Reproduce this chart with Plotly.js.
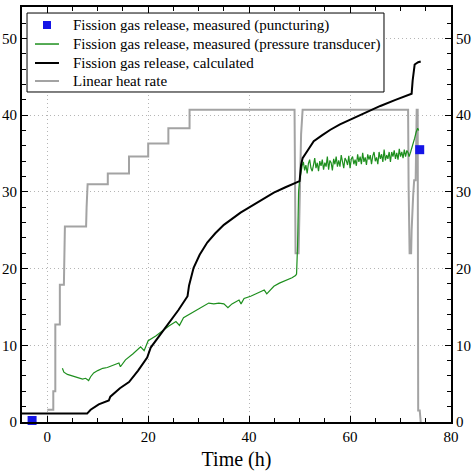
<!DOCTYPE html>
<html>
<head>
<meta charset="utf-8">
<script src="https://cdn.plot.ly/plotly-3.0.1.min.js"></script>
<style>
  html, body { margin: 0; padding: 0; background: #fff; }
  #chart { width: 474px; height: 474px; }
</style>
</head>
<body>
<div id="chart"></div>
<script>
// Linear heat rate (stepped power history)
const heatTime = [0, 1.2, 1.2, 1.6, 1.6, 2.5, 2.5, 3.3, 3.5, 7.7, 7.8, 8.0, 12.0, 12.0, 16.2, 16.2, 20.0, 20.0, 24.0, 24.0, 28.2, 28.2,
  49.0, 49.2, 49.8, 50.3, 50.6, 71.5, 71.6, 71.8, 72.1, 72.2, 72.5, 72.7, 73.0, 73.2, 73.4, 73.5, 73.8, 74.0];
const heatRate = [1.6, 1.6, 4.0, 4.0, 12.7, 12.7, 17.9, 17.9, 25.5, 25.5, 28.0, 31.0, 31.0, 32.4, 32.4, 34.6, 34.6, 36.3, 36.3, 38.3, 38.3, 40.7,
  40.7, 22.0, 22.0, 37.5, 40.7, 40.7, 30.7, 22.0, 22.0, 25.0, 29.5, 31.5, 31.5, 40.7, 40.7, 1.5, 1.5, 0.0];

// Fission gas release, pressure transducer signal
const fgrTransTime = [3.0, 3.3, 4.0, 5.0, 5.9, 7.0, 7.6, 8.2, 8.6, 9.2, 10.0, 11.0, 11.9, 13.0, 14.2, 14.5, 15.5, 17.0, 18.5, 19.2, 20.0,
  21.5, 23.0, 24.1, 25.5, 26.2, 27.0, 28.5, 30.0, 31.0, 32.0, 33.0, 34.0, 35.0, 35.8, 36.6, 38.0, 38.4, 39.0, 40.3, 41.5, 43.0, 43.5,
  44.9, 46.0, 47.5, 48.5, 49.2, 49.4, 49.6, 49.8, 50.0, 50.3, 50.5,
  50.75, 51.0, 51.25, 51.5, 51.75, 52.0, 52.25, 52.5, 52.75, 53.0, 53.25, 53.5,
  53.75, 54.0, 54.25, 54.5, 54.75, 55.0, 55.25, 55.5, 55.75, 56.0, 56.25, 56.5,
  56.75, 57.0, 57.25, 57.5, 57.75, 58.0, 58.25, 58.5, 58.75, 59.0, 59.25, 59.5,
  59.75, 60.0, 60.25, 60.5, 60.75, 61.0, 61.25, 61.5, 61.75, 62.0, 62.25, 62.5,
  62.75, 63.0, 63.25, 63.5, 63.75, 64.0, 64.25, 64.5, 64.75, 65.0, 65.25, 65.5,
  65.75, 66.0, 66.25, 66.5, 66.75, 67.0, 67.25, 67.5, 67.75, 68.0, 68.25, 68.5,
  68.75, 69.0, 69.25, 69.5, 69.75, 70.0, 70.25, 70.5, 70.75, 71.0, 71.25, 71.5,
  71.7, 72.0, 72.4, 72.8, 73.1, 73.4, 73.6];
const fgrTrans = [7.0, 6.5, 6.2, 6.0, 5.8, 5.6, 5.7, 5.4, 5.9, 6.4, 6.7, 7.0, 7.1, 7.4, 7.7, 7.2, 8.1, 8.9, 9.8, 9.3, 10.6,
  11.2, 12.0, 12.5, 13.1, 12.6, 13.6, 14.2, 14.8, 15.2, 15.5, 15.4, 15.5, 15.4, 14.9, 15.4, 15.9, 15.4, 16.1, 16.4, 16.8, 17.2, 16.7,
  17.7, 18.1, 18.5, 18.8, 19.1, 19.3, 23.0, 30.0, 31.5, 32.8, 33.4,
  33.9, 32.8, 33.5, 32.4, 33.7, 34.2, 33.1, 32.7, 33.5, 34.4, 33.1, 33.8,
  32.7, 34.0, 33.4, 34.2, 32.9, 33.8, 33.3, 34.6, 32.9, 34.1, 33.8, 32.8,
  34.3, 33.6, 34.6, 33.3, 34.1, 33.3, 34.8, 33.8, 33.1, 34.4, 34.1, 33.5,
  34.7, 33.1, 34.3, 34.6, 33.6, 34.2, 33.4, 34.9, 33.9, 34.6, 33.6, 35.1,
  33.9, 34.5, 33.5, 34.9, 34.2, 34.8, 33.6, 34.7, 35.2, 34.0, 34.5, 33.6,
  35.2, 34.3, 34.9, 33.9, 35.5, 34.1, 34.8, 34.3, 35.2, 33.9, 35.2, 34.6,
  35.4, 34.3, 35.1, 34.2, 35.6, 34.6, 35.2, 34.4, 35.5, 34.6, 35.4, 35.1,
  34.6, 35.2, 36.0, 37.0, 37.8, 38.3, 38.0];

// Fission gas release, calculated
const fgrCalcTime = [-5, 7.9, 8.6, 10.2, 12.2, 12.5, 14.4, 16.2, 18.0, 19.8, 20.5, 22.3, 24.1, 26.0, 27.8, 28.1, 29.0, 30.2, 31.7, 33.3,
  35.0, 38.3, 41.6, 44.9, 47.2, 49.5, 50.0, 50.3, 50.6, 51.5, 52.8, 54.5, 56.1, 58.0, 60.0, 63.0, 66.0, 69.0, 72.2, 72.4, 72.8, 73.5, 74.0];
const fgrCalc = [1.1, 1.1, 1.6, 2.3, 2.8, 3.3, 4.4, 5.2, 6.7, 8.4, 9.7, 11.3, 12.9, 14.6, 16.4, 17.8, 20.1, 21.8, 23.4, 24.6,
  25.7, 27.3, 28.6, 29.9, 30.6, 31.2, 31.4, 33.5, 34.4, 35.3, 36.6, 37.4, 38.1, 38.8, 39.4, 40.4, 41.2, 42.0, 42.8, 44.5, 46.6, 46.9, 47.0];

// Fission gas release, puncturing measurements
const fgrPunctTime = [-3.0, 73.8];
const fgrPunct = [0.2, 35.5];

const xTicks = [0, 20, 40, 60, 80];
const yTicks = [0, 10, 20, 30, 40, 50];

const legendNames = [
  'Fission gas release, measured (puncturing)',
  'Fission gas release, measured (pressure transducer)',
  'Fission gas release, calculated',
  'Linear heat rate'
];

const COLORS = { punct: '#1414e6', trans: '#1e8f1e', calc: '#000000', heat: '#a3a3a3' };
const serif = 'Liberation Serif';
const font = (size) => ({ family: serif, size: size, color: '#000' });

const traces = [
  { x: heatTime, y: heatRate, type: 'scatter', mode: 'lines', name: legendNames[3],
    line: { color: COLORS.heat, width: 2 } },
  { x: fgrTransTime, y: fgrTrans, type: 'scatter', mode: 'lines', name: legendNames[1],
    line: { color: COLORS.trans, width: 1.2 } },
  { x: fgrCalcTime, y: fgrCalc, type: 'scatter', mode: 'lines', name: legendNames[2],
    line: { color: COLORS.calc, width: 2 } },
  { x: fgrPunctTime, y: fgrPunct, type: 'scatter', mode: 'markers', name: legendNames[0],
    marker: { symbol: 'square', size: 9, color: COLORS.punct }, cliponaxis: false },
  // right-hand axis carries the same scale
  { x: [0], y: [0], yaxis: 'y2', type: 'scatter', mode: 'markers', hoverinfo: 'skip',
    marker: { opacity: 0 } }
];

// Compact boxed key in the upper-left corner (paper coordinates of the plot area)
const key = { x0: 0.0117, x1: 0.8438, y0: 0.7952, y1: 0.9855,
              rows: [0.9566, 0.9108, 0.8651, 0.8217],
              sx0: 0.0303, sx1: 0.0862, tx: 0.1166 };
const keyStyles = [
  { kind: 'square', color: COLORS.punct },
  { kind: 'line', color: COLORS.trans, width: 1.5 },
  { kind: 'line', color: COLORS.calc, width: 2 },
  { kind: 'line', color: COLORS.heat, width: 2 }
];
const shapes = [{
  type: 'rect', xref: 'paper', yref: 'paper', layer: 'above',
  x0: key.x0, x1: key.x1, y0: key.y0, y1: key.y1,
  fillcolor: '#fff', line: { color: '#000', width: 1 }
}];
const annotations = [];
keyStyles.forEach((s, i) => {
  const yc = key.rows[i];
  if (s.kind === 'square') {
    const xc = (key.sx0 + key.sx1) / 2;
    shapes.push({ type: 'rect', xref: 'paper', yref: 'paper', layer: 'above',
      x0: xc - 0.0093, x1: xc + 0.0093, y0: yc - 0.0096, y1: yc + 0.0096,
      fillcolor: s.color, line: { width: 0 } });
  } else {
    shapes.push({ type: 'line', xref: 'paper', yref: 'paper', layer: 'above',
      x0: key.sx0, x1: key.sx1, y0: yc, y1: yc, line: { color: s.color, width: s.width } });
  }
  annotations.push({ xref: 'paper', yref: 'paper', x: key.tx, y: yc, xanchor: 'left', yanchor: 'middle',
    text: legendNames[i], showarrow: false, font: font(15), borderpad: 0 });
});

function yAxis(extra) {
  return Object.assign({
    range: [0, 54.1], tickvals: yTicks,
    ticks: 'inside', ticklen: 6, tickwidth: 1, tickcolor: '#000',
    minor: { dtick: 2, tick0: 0, ticks: 'inside', ticklen: 4, tickcolor: '#000', showgrid: false },
    showline: true, linecolor: '#000', linewidth: 2,
    zeroline: false, tickfont: font(15)
  }, extra);
}

const layout = {
  width: 474, height: 474,
  margin: { l: 22, r: 23, t: 7, b: 52 },
  font: font(15),
  paper_bgcolor: '#fff', plot_bgcolor: '#fff',
  showlegend: false,
  shapes: shapes,
  annotations: annotations,
  xaxis: {
    range: [-5, 80], tickvals: xTicks,
    ticks: 'inside', ticklen: 6, tickwidth: 1, tickcolor: '#000',
    minor: { dtick: 5, tick0: 0, ticks: 'inside', ticklen: 4, tickcolor: '#000', showgrid: false },
    showline: true, linecolor: '#000', linewidth: 2, mirror: 'ticks',
    showgrid: true, gridcolor: '#b5b5b5', griddash: '1px,3px', gridwidth: 1,
    zeroline: false, tickfont: font(15),
    title: { text: 'Time (h)', font: font(20), standoff: 8 }
  },
  yaxis: yAxis({ showgrid: true, gridcolor: '#b5b5b5', griddash: '1px,3px', gridwidth: 1 }),
  yaxis2: yAxis({ overlaying: 'y', side: 'right', showgrid: false })
};

Plotly.newPlot('chart', traces, layout, { staticPlot: true, displayModeBar: false });
</script>
</body>
</html>
